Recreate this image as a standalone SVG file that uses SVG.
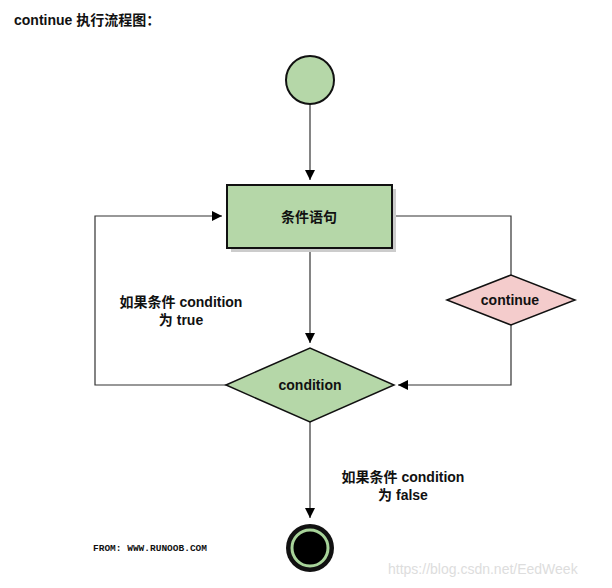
<svg xmlns="http://www.w3.org/2000/svg" width="612" height="588" viewBox="0 0 612 588">
<defs>
<marker id="ah" viewBox="0 0 10 10" refX="10" refY="5" markerWidth="10" markerHeight="10" markerUnits="userSpaceOnUse" orient="auto"><path d="M0,0L10,5L0,10z" fill="#000"/></marker>
</defs>
<style>
text{font-family:"Liberation Sans","Noto Sans CJK SC",sans-serif;font-weight:bold;fill:#111}
.c{stroke:#333;stroke-width:1.2;fill:none}
.s{stroke:#111;stroke-width:2}
</style>
<rect width="612" height="588" fill="#fff"/>
<text x="14" y="25" font-size="14">continue 执行流程图：</text>
<g id="connectors">
<path class="c" d="M310,104V180" marker-end="url(#ah)"/>
<path class="c" d="M310,248V343" marker-end="url(#ah)"/>
<path class="c" d="M226,385H95V216H222" marker-end="url(#ah)"/>
<path class="c" d="M392,216H511V275"/>
<path class="c" d="M511,325V385H398" marker-end="url(#ah)"/>
<path class="c" d="M310,422V518" marker-end="url(#ah)"/>
</g>
<g id="start"><circle cx="310" cy="80" r="24" fill="#b5d7a8" class="s"/></g>
<g id="cond-stmt">
<rect x="231" y="189" width="165" height="63" fill="#ccc"/>
<rect x="227" y="185" width="165" height="63" fill="#b5d7a8" class="s"/>
<text x="309" y="222" font-size="14" text-anchor="middle">条件语句</text>
</g>
<g id="continue">
<polygon points="447,300 511,275 575,300 511,325" fill="#f4cccc" stroke="#111" stroke-width="1.5"/>
<text x="510" y="305" font-size="14" text-anchor="middle">continue</text>
</g>
<g id="condition">
<polygon points="226,385 310,348 394,385 310,422" fill="#b5d7a8" stroke="#111" stroke-width="1.5"/>
<text x="310" y="390" font-size="14" text-anchor="middle">condition</text>
</g>
<g id="end">
<circle cx="310" cy="548" r="24" fill="#111"/>
<circle cx="310" cy="548" r="18" fill="#000" stroke="#a8d49a" stroke-width="3"/>
</g>
<text x="181" y="307" font-size="14" text-anchor="middle">如果条件 condition</text>
<text x="181" y="325" font-size="14" text-anchor="middle">为 true</text>
<text x="403" y="482" font-size="14" text-anchor="middle">如果条件 condition</text>
<text x="403" y="500" font-size="14" text-anchor="middle">为 false</text>
<text x="93" y="551" font-size="9.5" style="font-family:'Liberation Mono',monospace">FROM: WWW.RUNOOB.COM</text>
<text x="388" y="574" font-size="14" style="font-weight:normal;fill:#ddd">https://blog.csdn.net/EedWeek</text>
</svg>
